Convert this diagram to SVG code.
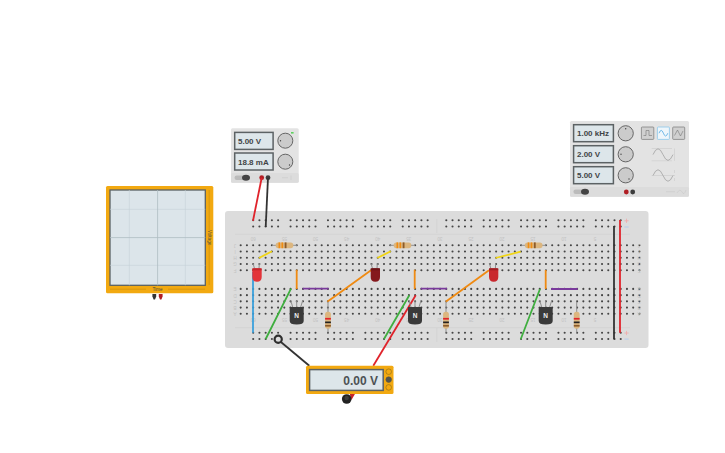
<svg xmlns="http://www.w3.org/2000/svg" width="725" height="453" viewBox="0 0 725 453">
<style>
text{font-family:"Liberation Sans",Arial,sans-serif}
.w{fill:none;stroke-linecap:butt;stroke-width:1.8}
.lcd{fill:#dde6ea;stroke:#5c6264;stroke-width:1.5}
.rd{font-size:8px;font-weight:bold;fill:#3f4446}
.panel{fill:#e3e3e3}
.strip{fill:#dcdcdc}
.knob{fill:#cbcbcb;stroke:#666;stroke-width:1}
.lbl{font-size:4.6px;fill:#c2c2c2;text-anchor:middle}
.sep{stroke:#cfcfcf;stroke-width:.6;fill:none}
.lead{stroke:#8f8f8f;stroke-width:1;fill:none}
.org{fill:#f2a911}
.ic{fill:none;stroke:#777;stroke-width:.6}
.faint{fill:none;stroke:#c9c9c9;stroke-width:.6}
.grid{stroke:#c4d0d6;stroke-width:.6}
.gmaj{stroke:#aebbc1;stroke-width:.8}
.hm{stroke:#454545;stroke-width:2.1;stroke-linecap:round;stroke-dasharray:0 6.23;fill:none}
.hr{stroke:#454545;stroke-width:2.1;stroke-linecap:round;stroke-dasharray:0 6.23 0 6.23 0 6.23 0 6.23 0 12.46;fill:none}
</style>
<defs>
<g id="resH">
<path class="lead" d="M-12.5 0H12.5"/>
<rect x="-8.8" y="-2.9" width="17.6" height="5.8" rx="2.6" fill="#dcb67f"/>
<rect x="-6" y="-2.9" width="1.6" height="5.8" fill="#f08c12"/>
<rect x="-3" y="-2.9" width="1.6" height="5.8" fill="#f08c12"/>
<rect x=".2" y="-2.9" width="1.8" height="5.8" fill="#8a5a2b"/>
</g>
<g id="resV">
<path class="lead" d="M0 -10V21"/>
<rect x="-2.9" y="0" width="5.8" height="17" rx="2.6" fill="#dcb67f"/>
<rect x="-2.9" y="6.2" width="5.8" height="1.7" fill="#e0222a"/>
<rect x="-2.9" y="9.8" width="5.8" height="1.7" fill="#222"/>
<rect x="-2.9" y="13.2" width="5.8" height="1.7" fill="#8a5a2b"/>
</g>
<g id="npn">
<path class="lead" d="M-6 -6.5L-4 0M0 -6.5V0M6 -6.5L4 0"/>
<path d="M-7 0H7V14Q7 17.6 0 17.6T-7 14Z" fill="#3a3a3a"/>
<text x="0" y="11" font-size="6.5" font-weight="bold" fill="#eee" text-anchor="middle">N</text>
</g>
</defs>

<g id="breadboard">
<rect x="225" y="211" width="423.5" height="137" rx="3" fill="#dcdcdc"/>
<path class="sep" d="M235 234.3H630M235 327.7H630M436.8 219V233M436.8 328V342"/>
<path class="hm" d="M240.7 245.3H640M240.7 251.53H640M240.7 257.76H640M240.7 263.99H640M240.7 270.22H640M240.7 288.9H640M240.7 295.13H640M240.7 301.36H640M240.7 307.59H640M240.7 313.82H640"/>
<path class="hr" d="M253.2 220.3H430M253.2 226.53H430M446.3 220.3H623M446.3 226.53H623M253.2 332.7H430M253.2 338.93H430M446.3 332.7H623M446.3 338.93H623"/>
<g class="lbl">
<text transform="rotate(180 253.3 237.4)" x="253.3" y="237.4">60</text>
<text transform="rotate(180 284.4 237.4)" x="284.4" y="237.4">55</text>
<text transform="rotate(180 315.5 237.4)" x="315.5" y="237.4">50</text>
<text transform="rotate(180 346.6 237.4)" x="346.6" y="237.4">45</text>
<text transform="rotate(180 377.7 237.4)" x="377.7" y="237.4">40</text>
<text transform="rotate(180 408.8 237.4)" x="408.8" y="237.4">35</text>
<text transform="rotate(180 440 237.4)" x="440" y="237.4">30</text>
<text transform="rotate(180 471 237.4)" x="471" y="237.4">25</text>
<text transform="rotate(180 502 237.4)" x="502" y="237.4">20</text>
<text transform="rotate(180 533 237.4)" x="533" y="237.4">15</text>
<text transform="rotate(180 564 237.4)" x="564" y="237.4">10</text>
<text transform="rotate(180 595 237.4)" x="595" y="237.4">5</text>
<text transform="rotate(180 253.3 318.4)" x="253.3" y="318.4">60</text>
<text transform="rotate(180 284.4 318.4)" x="284.4" y="318.4">55</text>
<text transform="rotate(180 315.5 318.4)" x="315.5" y="318.4">50</text>
<text transform="rotate(180 346.6 318.4)" x="346.6" y="318.4">45</text>
<text transform="rotate(180 377.7 318.4)" x="377.7" y="318.4">40</text>
<text transform="rotate(180 408.8 318.4)" x="408.8" y="318.4">35</text>
<text transform="rotate(180 440 318.4)" x="440" y="318.4">30</text>
<text transform="rotate(180 471 318.4)" x="471" y="318.4">25</text>
<text transform="rotate(180 502 318.4)" x="502" y="318.4">20</text>
<text transform="rotate(180 533 318.4)" x="533" y="318.4">15</text>
<text transform="rotate(180 564 318.4)" x="564" y="318.4">10</text>
<text transform="rotate(180 595 318.4)" x="595" y="318.4">5</text>
<text transform="rotate(180 235 243.7)" x="235" y="243.7">J</text>
<text transform="rotate(180 235 249.9)" x="235" y="249.9">I</text>
<text transform="rotate(180 235 256.2)" x="235" y="256.2">H</text>
<text transform="rotate(180 235 262.4)" x="235" y="262.4">G</text>
<text transform="rotate(180 235 268.6)" x="235" y="268.6">F</text>
<text transform="rotate(180 235 287.3)" x="235" y="287.3">E</text>
<text transform="rotate(180 235 293.5)" x="235" y="293.5">D</text>
<text transform="rotate(180 235 299.8)" x="235" y="299.8">C</text>
<text transform="rotate(180 235 306)" x="235" y="306">B</text>
<text transform="rotate(180 235 312.2)" x="235" y="312.2">A</text>
<text transform="rotate(180 639 243.7)" x="639" y="243.7">J</text>
<text transform="rotate(180 639 249.9)" x="639" y="249.9">I</text>
<text transform="rotate(180 639 256.2)" x="639" y="256.2">H</text>
<text transform="rotate(180 639 262.4)" x="639" y="262.4">G</text>
<text transform="rotate(180 639 268.6)" x="639" y="268.6">F</text>
<text transform="rotate(180 639 287.3)" x="639" y="287.3">E</text>
<text transform="rotate(180 639 293.5)" x="639" y="293.5">D</text>
<text transform="rotate(180 639 299.8)" x="639" y="299.8">C</text>
<text transform="rotate(180 639 306)" x="639" y="306">B</text>
<text transform="rotate(180 639 312.2)" x="639" y="312.2">A</text>
</g>
<path d="M624.4 220.8H628.6M626.5 218.7V222.9M624.4 333H628.6M626.5 330.9V335.1" stroke="#efa9a9" stroke-width=".8" fill="none"/>
<path d="M624.4 227H628.6M624.4 339.1H628.6" stroke="#a9c6ef" stroke-width=".8" fill="none"/>
</g>

<g id="psu">
<rect class="panel" x="231" y="128.3" width="67.7" height="54.4" rx="1.5"/>
<rect class="strip" x="231" y="173" width="67.7" height="9.7" rx="1.5"/>
<rect class="lcd" x="234.7" y="132.4" width="38.4" height="17"/>
<rect class="lcd" x="234.7" y="153" width="38.4" height="17"/>
<text class="rd" x="238" y="143.8">5.00 V</text>
<text class="rd" x="238" y="164.6">18.8 mA</text>
<circle class="knob" cx="285.3" cy="140.7" r="7.5"/>
<circle class="knob" cx="285.3" cy="161.7" r="7.5"/>
<circle cx="280.5" cy="140.7" r=".7" fill="#444"/>
<circle cx="289.5" cy="165" r=".7" fill="#444"/>
<rect x="291" y="132" width="2.6" height="1.6" fill="#5ed35e"/>
<rect x="234.5" y="175.4" width="11" height="4.6" rx="2.3" fill="#bbb"/>
<ellipse cx="246" cy="177.7" rx="4" ry="3" fill="#444"/>
<path class="faint" d="M282 177.7H288M291 175.5V180"/>
<circle cx="261.7" cy="177.7" r="2.4" fill="#b01e24"/>
<circle cx="268" cy="177.7" r="2.4" fill="#3d3d3d"/>
</g>

<g id="function-generator">
<rect class="panel" x="570" y="121" width="119" height="75.7" rx="1.5"/>
<rect class="strip" x="570" y="187" width="119" height="9.7" rx="1.5"/>
<rect class="lcd" x="573.6" y="124.7" width="39.8" height="17"/>
<rect class="lcd" x="573.6" y="145.7" width="39.8" height="17"/>
<rect class="lcd" x="573.6" y="166.7" width="39.8" height="17"/>
<text class="rd" x="577" y="136.3">1.00 kHz</text>
<text class="rd" x="577" y="157.3">2.00 V</text>
<text class="rd" x="577" y="178.3">5.00 V</text>
<circle class="knob" cx="625.7" cy="133.3" r="7.6"/>
<circle class="knob" cx="625.7" cy="154.3" r="7.6"/>
<circle class="knob" cx="625.7" cy="175.3" r="7.6"/>
<circle cx="625.7" cy="128.8" r=".7" fill="#444"/>
<circle cx="621" cy="154.3" r=".7" fill="#444"/>
<circle cx="629" cy="179" r=".7" fill="#444"/>
<rect x="641.4" y="127" width="12.4" height="12.4" rx=".8" fill="#d0d0d0" stroke="#777" stroke-width=".7"/>
<path class="ic" d="M643.5 135.5H646V130.5H649V135.5H652"/>
<rect x="657.4" y="127" width="12" height="12.4" rx=".8" fill="#eef6fb" stroke="#8cc7ea" stroke-width=".8"/>
<path d="M659 133.2Q661.2 127.5 663.4 133.2T667.8 133.2" fill="none" stroke="#3c9fe0" stroke-width=".7"/>
<rect x="672.7" y="127" width="12" height="12.4" rx=".8" fill="#d0d0d0" stroke="#777" stroke-width=".7"/>
<path class="ic" d="M674.5 135.5L677.5 130L680.5 136L683 131"/>
<path d="M651.7 148.5H672M651.7 160.8H672M674.5 148.5V160.8" class="faint"/>
<path d="M653 154.6Q658 143 663 154.6T673 154.6" fill="none" stroke="#9a9a9a" stroke-width=".7"/>
<path class="faint" d="M651.7 175.5H675M674.5 170V173M674.5 178V181"/>
<path d="M653 175.5Q658 164 663 175.5T673 175.5" fill="none" stroke="#9a9a9a" stroke-width=".7"/>
<rect x="573.4" y="189.4" width="11" height="4.6" rx="2.3" fill="#bbb"/>
<ellipse cx="585" cy="191.7" rx="4" ry="3" fill="#444"/>
<path class="faint" d="M666 191.7H675M677 193Q680 188 682 192T686 190"/>
<circle cx="626.3" cy="192" r="2.4" fill="#b01e24"/>
<circle cx="632.7" cy="192" r="2.4" fill="#3d3d3d"/>
</g>

<g id="oscilloscope">
<rect class="org" x="106" y="186" width="107.3" height="107.3" rx="1.5"/>
<rect x="110" y="190" width="95.3" height="95.3" fill="#dce5ea" stroke="#5a6163" stroke-width="1.3"/>
<path class="grid" d="M129.3 190V285.3M185.3 190V285.3M110 209.3H205.3M110 265.3H205.3"/>
<path class="gmaj" d="M157.6 190V285.3M110 237.6H205.3"/>
<path d="M110 289.2H146M168 289.2H205M209.2 190V230M209.2 245V285" stroke="#c98d0a" stroke-width=".6" fill="none"/>
<text x="157.5" y="290.6" font-size="4.6" fill="#4c4c3c" text-anchor="middle">Time</text>
<text transform="rotate(90 207.6 237.6)" x="207.6" y="237.6" font-size="4.6" fill="#4c4c3c" text-anchor="middle">Voltage</text>
<path d="M152.4 294H156.2V296.5L155 299.5H153.6L152.4 296.5Z" fill="#333"/>
<path d="M158.8 294H162.6V296.5L161.4 299.5H160L158.8 296.5Z" fill="#b01e24"/>
</g>

<g id="connectors">
<path class="w" stroke="#e0232b" d="M261.7 177.7L253 220.7"/>
<path class="w" stroke="#333" d="M268 177.7L265.7 227"/>
<path class="w" stroke="#3aa0dc" d="M253 272L253 332.7"/>
<path class="w" stroke="#f0d414" d="M259 258L272 251.3M377.3 258L390.7 251.3M495.5 258L520.7 251.7"/>
<path class="w" stroke="#3fae3f" d="M291 288.7L265.7 339M409.3 295.3L384 339M540 289L520.7 339.3"/>
<path class="w" stroke="#ef8a12" d="M296.7 269.7V289M414.7 269.7V289M545.7 270V289M371 270.3L327.3 301.7M489 270.3L445.7 301.7"/>
<path class="w" stroke="#7a3a9c" d="M302.7 288.7H328.7M420.7 288.7H447M551 289H577.7"/>
<path class="w" stroke="#333" d="M614 226V339.3"/>
<path class="w" stroke="#e0232b" d="M620 220V332.7"/>
<path class="w" stroke="#e0232b" d="M415.7 295.3L373.3 365.7"/>
<path class="w" stroke="#333" d="M280.3 341.5L309.3 365.7"/>
</g>

<use id="res-h1" href="#resH" x="284.5" y="245.3"/>
<use id="res-h2" href="#resH" x="402.5" y="245.3"/>
<use id="res-h3" href="#resH" x="533.7" y="245.3"/>

<g id="led1">
<path class="lead" d="M253 263.3L254.5 268.5M259.3 263.3L259 268.5"/>
<path d="M252.3 270Q252.3 268.3 254 268.3H260Q261.7 268.3 261.7 270V277Q261.7 281.7 257 281.7T252.3 277Z" fill="#e3343a"/>
<rect x="252.3" y="268.3" width="9.4" height="2" fill="#c4262c"/>
</g>
<g id="led2">
<path class="lead" d="M371 263.3L372.5 268.5M377.3 263.3L377 268.5"/>
<path d="M370.7 270Q370.7 268.3 372.4 268.3H378.3Q380 268.3 380 270V277Q380 281.7 375.3 281.7T370.7 277Z" fill="#85191d"/>
<rect x="370.7" y="268.3" width="9.3" height="2" fill="#6d1417"/>
</g>
<g id="led3">
<path class="lead" d="M489.4 263.3L490.8 268.5M495.7 263.3L495.4 268.5"/>
<path d="M489 270Q489 268.3 490.7 268.3H496.6Q498.3 268.3 498.3 270V277Q498.3 281.7 493.7 281.7T489 277Z" fill="#c9282e"/>
<rect x="489" y="268.3" width="9.3" height="2" fill="#a01e23"/>
</g>
<use id="q1" href="#npn" x="296.7" y="307"/>
<use id="q2" href="#npn" x="415" y="307"/>
<use id="q3" href="#npn" x="545.7" y="307"/>
<use id="res-v1" href="#resV" x="328" y="311.7"/>
<use id="res-v2" href="#resV" x="446" y="311.7"/>
<use id="res-v3" href="#resV" x="576.7" y="311.7"/>

<g id="multimeter">
<path d="M355.5 393L351.5 400L349.5 393Z" fill="#c9242a"/>
<circle cx="346.7" cy="399" r="4.8" fill="#222"/>
<circle cx="346.7" cy="398" r="2.2" fill="#3c3c3c"/>
<rect class="org" x="306" y="365.7" width="87.5" height="28.3" rx="1.5"/>
<rect class="lcd" x="309.6" y="369.6" width="73.6" height="20.8"/>
<text x="378" y="385" font-size="12" font-weight="bold" fill="#4c5254" text-anchor="end">0.00 V</text>
<circle cx="388.7" cy="371.7" r="2.8" fill="#f2a911" stroke="#8a6a1a" stroke-width=".6"/>
<circle cx="388.7" cy="379.6" r="2.8" fill="#55554a" stroke="#55554a" stroke-width=".6"/>
<circle cx="388.7" cy="387.4" r="2.8" fill="#f2a911" stroke="#8a6a1a" stroke-width=".6"/>
</g>
<g id="probe">
<circle cx="278.2" cy="339.3" r="3.6" fill="#dcdcdc" stroke="#2e2e2e" stroke-width="2.2"/>
</g>
</svg>
